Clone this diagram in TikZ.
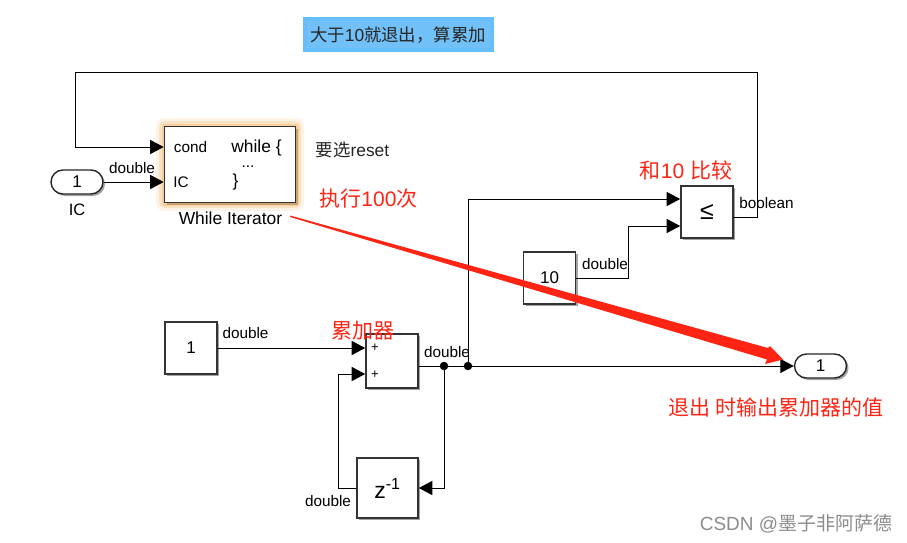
\documentclass[tikz,border=0pt]{standalone}
\usepackage{fontspec}
\setmainfont{Liberation Sans}
\newfontfamily\cjk{Noto Sans CJK SC}
\newcommand{\zh}[1]{{\cjk #1}}
\usetikzlibrary{arrows.meta,shapes.misc,shadows}
\definecolor{penred}{HTML}{FF2414}
\definecolor{notefill}{HTML}{72C0F8}
\definecolor{noteedge}{HTML}{66BEFF}
\definecolor{glowc}{HTML}{F0A040}
\tikzset{
  wire/.style={line width=1pt,black},
  block/.style={draw=black!80,line width=1.6pt,fill=white,minimum size=52pt,inner sep=0pt,font=\fontsize{17}{18}\selectfont,
    drop shadow={shadow xshift=2pt,shadow yshift=-2pt,fill=black!60,opacity=.6}},
  port/.style={rounded rectangle,draw=black!85,line width=1.4pt,fill=white,minimum width=52pt,minimum height=24pt,inner sep=0pt,
    font=\fontsize{17}{18}\selectfont,drop shadow={shadow xshift=2pt,shadow yshift=-2pt,fill=black!60,opacity=.6}},
  glow/.style={preaction={draw=glowc,draw opacity=.13,line width=17pt,line join=round},
    preaction={draw=glowc,draw opacity=.2,line width=11pt,line join=round},
    preaction={draw=glowc,draw opacity=.3,line width=6pt,line join=round}},
  dot/.style={circle,fill=black,minimum size=8.5pt,inner sep=0pt},
  sig/.style={inner sep=0pt,font=\fontsize{15.3}{18}\selectfont},
  txt/.style={inner sep=0pt,font=\fontsize{17.4}{20}\selectfont},
  redtxt/.style={inner sep=0pt,text=penred,font=\fontsize{21}{24}\selectfont}
}
\begin{document}
\begin{tikzpicture}[x=1pt,y=-1pt,>={Triangle[length=13.5pt,width=14pt]}]
  \useasboundingbox (0,0) rectangle (907,543);

  \node[draw=noteedge,line width=4pt,fill=notefill,minimum width=187pt,minimum height=31pt,inner sep=0pt,
    font=\fontsize{17.4}{20}\selectfont,text=black!85] (note) at (398,35) {\zh{大于}10\zh{就退出\symbol{"FF0C}算累加}};

  % iterator
  \node[block,glow,minimum width=131pt,minimum height=76pt] (whileblk) at (230,164.5) {};
  \node[port] (inIC) [left of=whileblk,node distance=153pt,yshift=-17.5pt] {1};
  \node[txt,font=\fontsize{16.5}{20}\selectfont] (inICname) [below of=inIC,node distance=27.5pt] {IC};
  \node[sig] (condtxt) at (190.5,147) {cond};
  \node[sig] (ictxt) at (181,182) {IC};
  \node[txt] (whiletxt) at (256.5,148) {while \{};
  \node[sig] (dotstxt) at (248,167) {...};
  \node[txt] (closetxt) at (235.5,182.5) {\}};
  \node[txt] (whilename) at (230.5,218) {While Iterator};
  \node[txt,text=black!85] (resettxt) at (352.5,150) {\zh{要选}reset};

  % compare
  \node[block] (ten) at (549.5,278) {10};
  \node[block,font=\fontsize{25}{26}\selectfont] (cmp) [right of=ten,node distance=157.5pt,yshift=66pt] {≤};

  % accumulate
  \node[block] (one) at (191,348) {1};
  \node[block,minimum height=54pt] (sum) [right of=one,node distance=201pt,yshift=-13pt] {};
  \node[block,minimum width=61pt,minimum height=60pt,font=\fontsize{23}{26}\selectfont] (delay) [below of=sum,node distance=127pt,xshift=-4.5pt] {z\textsuperscript{-1}};
  \node[inner sep=0pt,font=\fontsize{13}{14}\selectfont] (plusa) at (375,348) {+};
  \node[inner sep=0pt,font=\fontsize{13}{14}\selectfont] (plusb) at (375,374.5) {+};
  \node[port] (outp) at (820.5,366) {1};
  \node[dot] (dotA) at (444,366) {};
  \node[dot] (dotB) at (468,366) {};

  \coordinate (looptr) at (757,72);
  \coordinate (looptl) at (75,72);

  \draw[wire,->] (inIC.east) -- (inIC.east -| whileblk.west);
  \draw[wire,->] ([yshift=-5pt]cmp.east) -| (looptr) -- (looptl) |- ([yshift=17.5pt]whileblk.west);
  \draw[wire,->] (ten.east) -- ++(52.5,0) |- ([yshift=-14pt]cmp.west);
  \draw[wire,->] (dotB) |- ([yshift=13pt]cmp.west);
  \draw[wire,->] (one.east) -- (one.east -| sum.west);
  \draw[wire] ([yshift=-5pt]sum.east) -- (dotA);
  \draw[wire] (dotA) -- (dotB);
  \draw[wire,->] (dotB) -- (outp.west);
  \draw[wire,->] (dotA) |- (delay.east);
  \draw[wire,->] (delay.west) -- ++(-18,0) |- ([yshift=-13pt]sum.west);

  \node[sig] (sigIC) at (132,168) {double};
  \node[sig] (sigone) at (245.5,333.5) {double};
  \node[sig] (sigsum) at (447,352) {double};
  \node[sig] (sigten) at (605,264) {double};
  \node[sig] (sigdelay) at (328,501.5) {double};
  \node[sig] (sigcmp) at (766.5,203) {boolean};

  % pen marks
  \coordinate (spear) at (290,215.5);
  \fill[penred] (spear) -- (768,348) -- (770,346) -- (783,359.5) -- (765,364) -- (767,359.5) -- (290,217) -- cycle;
  \node[redtxt] (runtxt) at (368.5,199) {\zh{执行}100\zh{次}};
  \node[redtxt] (cmptxt) at (686,170) {\zh{和}10 \zh{比较}};
  \node[redtxt] (sumtxt) at (362.5,331) {\zh{累加器}};
  \node[redtxt] (exittxt) at (776,407) {\zh{退出} \zh{时输出累加器的值}};

  \node[inner sep=0pt,text=black!45,font=\fontsize{19}{22}\selectfont] (mark) at (796,524) {CSDN @\zh{墨子非阿萨德}};
\end{tikzpicture}
\end{document}
